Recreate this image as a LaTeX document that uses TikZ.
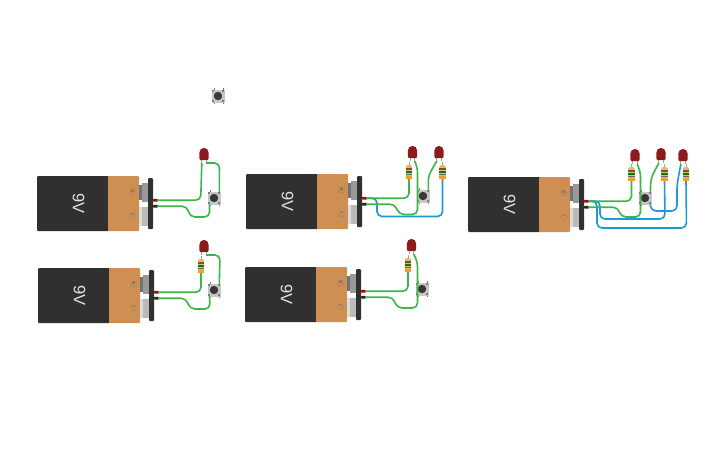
\documentclass[tikz,border=0pt]{standalone}
\usepackage{fontspec}
\setmainfont{Liberation Sans}
\definecolor{wgreen}{HTML}{3DB54A}
\definecolor{wblue}{HTML}{1E9BD0}
\definecolor{batdark}{HTML}{303030}
\definecolor{batcu}{HTML}{CF8E52}
\definecolor{ledred}{HTML}{8A1C1E}
\definecolor{restan}{HTML}{DDB877}
\definecolor{resor}{HTML}{F0A030}
\tikzset{
 x=1pt,y=-1pt,
 greenwire/.style={draw=wgreen,line width=1.6pt,rounded corners=5pt},
 bluewire/.style={draw=wblue,line width=1.6pt,rounded corners=5pt},
 pics/battery/.style={code={
  \fill[batdark,rounded corners=1pt] (0,0) rectangle (72,55);
  \fill[batcu,rounded corners=1pt] (71,0) rectangle (102,55);
  \draw[black!50,line width=.3pt] (95.5,16) circle (3);
  \draw[black!50,line width=.3pt] (95.5,40) circle (3);
  \node[text=black!75,font=\fontsize{6}{6}\selectfont,inner sep=0] at (95.5,16) {+};
  \node[text=black!75,font=\fontsize{6}{6}\selectfont,inner sep=0] at (95.5,40) {-};
  \node[text=white!88!black,font=\fontsize{16.5}{16.5}\selectfont,rotate=-90,inner sep=0] at (41.5,27.5) {9V};
  \fill[black!55] (102,9) rectangle (105,24);
  \fill[black!40] (105,7) rectangle (111,26);
  \fill[black!14] (102,31) rectangle (105,50);
  \fill[black!27] (105,31) rectangle (111,50);
  \fill[batdark,rounded corners=1pt] (111,2) rectangle (116,53);
  \fill[black!85,rounded corners=.8pt] (116,28.8) rectangle (121,31.6);
  \fill[red!70!black,rounded corners=.8pt] (116,22.8) rectangle (121,25.6);
  \coordinate (-pos) at (120,24.2);
  \coordinate (-neg) at (120,30.2);
 }},
 pics/ledpart/.style={code={
  \draw[black!35,line width=.8pt] (-2.2,4) -- (-2.2,9);
  \draw[black!35,line width=.8pt] (2.2,4) -- (2.2,9);
  \fill[ledred] (-4.6,4.5) -- (-4.6,-1.5) arc (180:360:4.6) -- (4.6,4.5) -- (3.8,6) -- (-3.8,6) -- cycle;
  \coordinate (-a) at (-2.2,9);
  \coordinate (-c) at (2.2,9);
 }},
 pics/respart/.style={code={
  \draw[black!35,line width=.8pt] (0,-10.5) -- (0,-6);
  \fill[restan,rounded corners=1.5pt] (-3.2,-7) rectangle (3.2,7);
  \fill[brown!65!black] (-3.2,-3.6) rectangle (3.2,-2.5);
  \fill[green!50!black] (-3.2,-0.6) rectangle (3.2,0.7);
  \fill[black!60] (-3.2,1.9) rectangle (3.2,2.8);
  \fill[resor] (-3.2,4.4) rectangle (3.2,7);
  \coordinate (-t) at (0,-10);
  \coordinate (-b) at (0,7);
 }},
 pics/btnpart/.style={code={
  \draw[black!55,line width=.7pt] (-4,-8) -- (-4,8);
  \draw[black!55,line width=.7pt] (5,-8) -- (5,8);
  \fill[black!22] (-6.5,-6.5) rectangle (6.5,6.5);
  \fill[black!78] (0,0) circle (4.2);
  \foreach \a/\b in {-5/-5,5/-5,-5/5,5/5} \fill[black!60] (\a,\b) circle (1.1);
  \coordinate (-tl) at (-4.5,-6.5);
  \coordinate (-tr) at (5.3,-6.5);
  \coordinate (-bl) at (-4.5,6.5);
  \coordinate (-br) at (5.3,6.5);
 }},
}
\begin{document}
\begin{tikzpicture}
\useasboundingbox (0,0) rectangle (725,453);
\fill[white] (0,0) rectangle (725,453);

% stand-alone button
\pic (b0) at (218,96) {btnpart};

% circuit 1
\pic (bat1) at (37,176) {battery};
\pic (led1) at (204,154) {ledpart};
\pic (btn1) at (214,198) {btnpart};
\draw[greenwire] (bat1-pos) -- (200.7,200.2) -- (led1-a);
\draw[greenwire] (led1-c) -- (219.5,163) -- (btn1-tr);
\draw[greenwire] (bat1-neg) -- (187,206.2) -- (190,217) -- (209.5,217) -- (btn1-bl);

% circuit 2
\pic (bat2) at (246,174) {battery};
\pic (led2a) at (412.5,152) {ledpart};
\pic (led2b) at (439,152) {ledpart};
\pic (res2a) at (409,172) {respart};
\pic (res2b) at (442.5,172) {respart};
\pic (btn2) at (423,196) {btnpart};
\draw[bluewire] (bat2-pos) -- (377,198.2) -- (377,216.5) -- (442.5,216.5) -- (res2b-b);
\draw[greenwire] (bat2-pos) -- (409,198.2) -- (res2a-b);
\draw[greenwire] (bat2-neg) -- (395,204.2) -- (399,214.5) -- (417.5,214.5) -- (417.5,168) -- (led2a-c);
\draw[greenwire] (btn2-tr) -- (428.3,176) -- (led2b-a);

% circuit 3
\pic (bat3) at (468,177) {battery};
\pic (led3a) at (635,155) {ledpart};
\pic (led3b) at (661,154) {ledpart};
\pic (led3c) at (683,155) {ledpart};
\pic (res3a) at (631.5,174) {respart};
\pic (res3b) at (664.5,174) {respart};
\pic (res3c) at (686,174) {respart};
\pic (btn3) at (645,198) {btnpart};
\draw[bluewire] (bat3-pos) -- (600,201.2) -- (600,219) -- (665,219) -- (res3b-b);
\draw[bluewire] (bat3-pos) -- (597,201.2) -- (597,228) -- (686.5,228) -- (res3c-b);
\draw[bluewire] (btn3-br) -- (651,211) -- (677,211) -- (677,185) -- (led3c-a);
\draw[greenwire] (bat3-pos) -- (631.5,201.2) -- (res3a-b);
\draw[greenwire] (bat3-neg) -- (618,207.2) -- (621,217) -- (640.5,217) -- (640.5,172) -- (led3a-c);
\draw[greenwire] (btn3-tr) -- (651,178) -- (led3b-a);

% circuit 4
\pic (bat4) at (38,268) {battery};
\pic (led4) at (204,246) {ledpart};
\pic (res4) at (201,266) {respart};
\pic (btn4) at (214,290) {btnpart};
\draw[greenwire] (bat4-pos) -- (201,292.2) -- (res4-b);
\draw[greenwire] (led4-c) -- (220,255) -- (btn4-tr);
\draw[greenwire] (bat4-neg) -- (186,298.2) -- (190,309) -- (210,309) -- (btn4-bl);

% circuit 5
\pic (bat5) at (245,267) {battery};
\pic (led5) at (411.5,245) {ledpart};
\pic (res5) at (408,265) {respart};
\pic (btn5) at (422,289) {btnpart};
\draw[greenwire] (bat5-pos) -- (408,291.2) -- (res5-b);
\draw[greenwire] (bat5-neg) -- (393,297.2) -- (397,308) -- (417.5,308) -- (417.5,262) -- (led5-c);
\end{tikzpicture}
\end{document}
